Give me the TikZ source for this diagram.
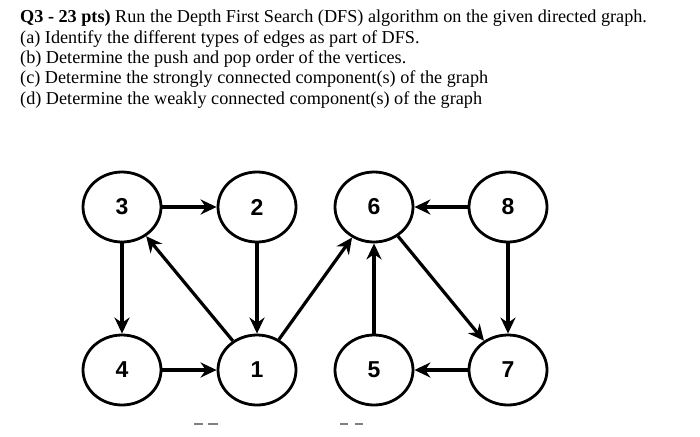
\documentclass[tikz,border=0pt]{standalone}
\usepackage{fontspec}
\setmainfont{Liberation Serif}
\newfontfamily\nodefont{Liberation Sans}
\usetikzlibrary{arrows.meta,shapes.geometric}
\begin{document}
\begin{tikzpicture}[x=1pt,y=-1pt,
  vtx/.style={draw,line width=2.8pt,ellipse,minimum width=78pt,minimum height=70pt,inner sep=0pt,font=\nodefont\bfseries\fontsize{23}{23}\selectfont},
  edge/.style={line width=3.2pt,-{Stealth[length=16pt,width=15pt]}},
  dsh/.style={gray,line width=1.2pt},
  txt/.style={anchor=west,inner sep=0pt,font=\fontsize{18.2}{20}\selectfont}]
\useasboundingbox (0,0) rectangle (700,436);
\node[txt] (l1) at (20,18) {\textbf{Q3 - 23 pts)} Run the Depth First Search (DFS) algorithm on the given directed graph.};
\node[txt] (l2) at (20,39) {(a) Identify the different types of edges as part of DFS.};
\node[txt] (l3) at (20,59) {(b) Determine the push and pop order of the vertices.};
\node[txt] (l4) at (20,79) {(c) Determine the strongly connected component(s) of the graph};
\node[txt] (l5) at (20,100) {(d) Determine the weakly connected component(s) of the graph};
\node[vtx] (n3) at (122,207) {3};
\node[vtx] (n2) at (257,207) {2};
\node[vtx] (n6) at (374,207) {6};
\node[vtx] (n8) at (508,207) {8};
\node[vtx] (n4) at (122,370) {4};
\node[vtx] (n1) at (257,370) {1};
\node[vtx] (n5) at (374,370) {5};
\node[vtx] (n7) at (508,370) {7};
\draw[edge] (n3) -- (n2);
\draw[edge] (n3) -- (n4);
\draw[edge] (n2) -- (n1);
\draw[edge] (n1) -- (n3);
\draw[edge] (n4) -- (n1);
\draw[edge] (n1) -- (n6);
\draw[edge] (n5) -- (n6);
\draw[edge] (n6) -- (n7);
\draw[edge] (n8) -- (n6);
\draw[edge] (n8) -- (n7);
\draw[edge] (n7) -- (n5);
\coordinate (a) at (194,424); \coordinate (b) at (203,424);
\coordinate (c) at (208,424); \coordinate (d) at (218,424);
\coordinate (e) at (340,424); \coordinate (f) at (348,424);
\coordinate (g) at (355,424); \coordinate (h) at (363,424);
\draw[dsh] (a) -- (b); \draw[dsh] (c) -- (d);
\draw[dsh] (e) -- (f); \draw[dsh] (g) -- (h);
\end{tikzpicture}
\end{document}
